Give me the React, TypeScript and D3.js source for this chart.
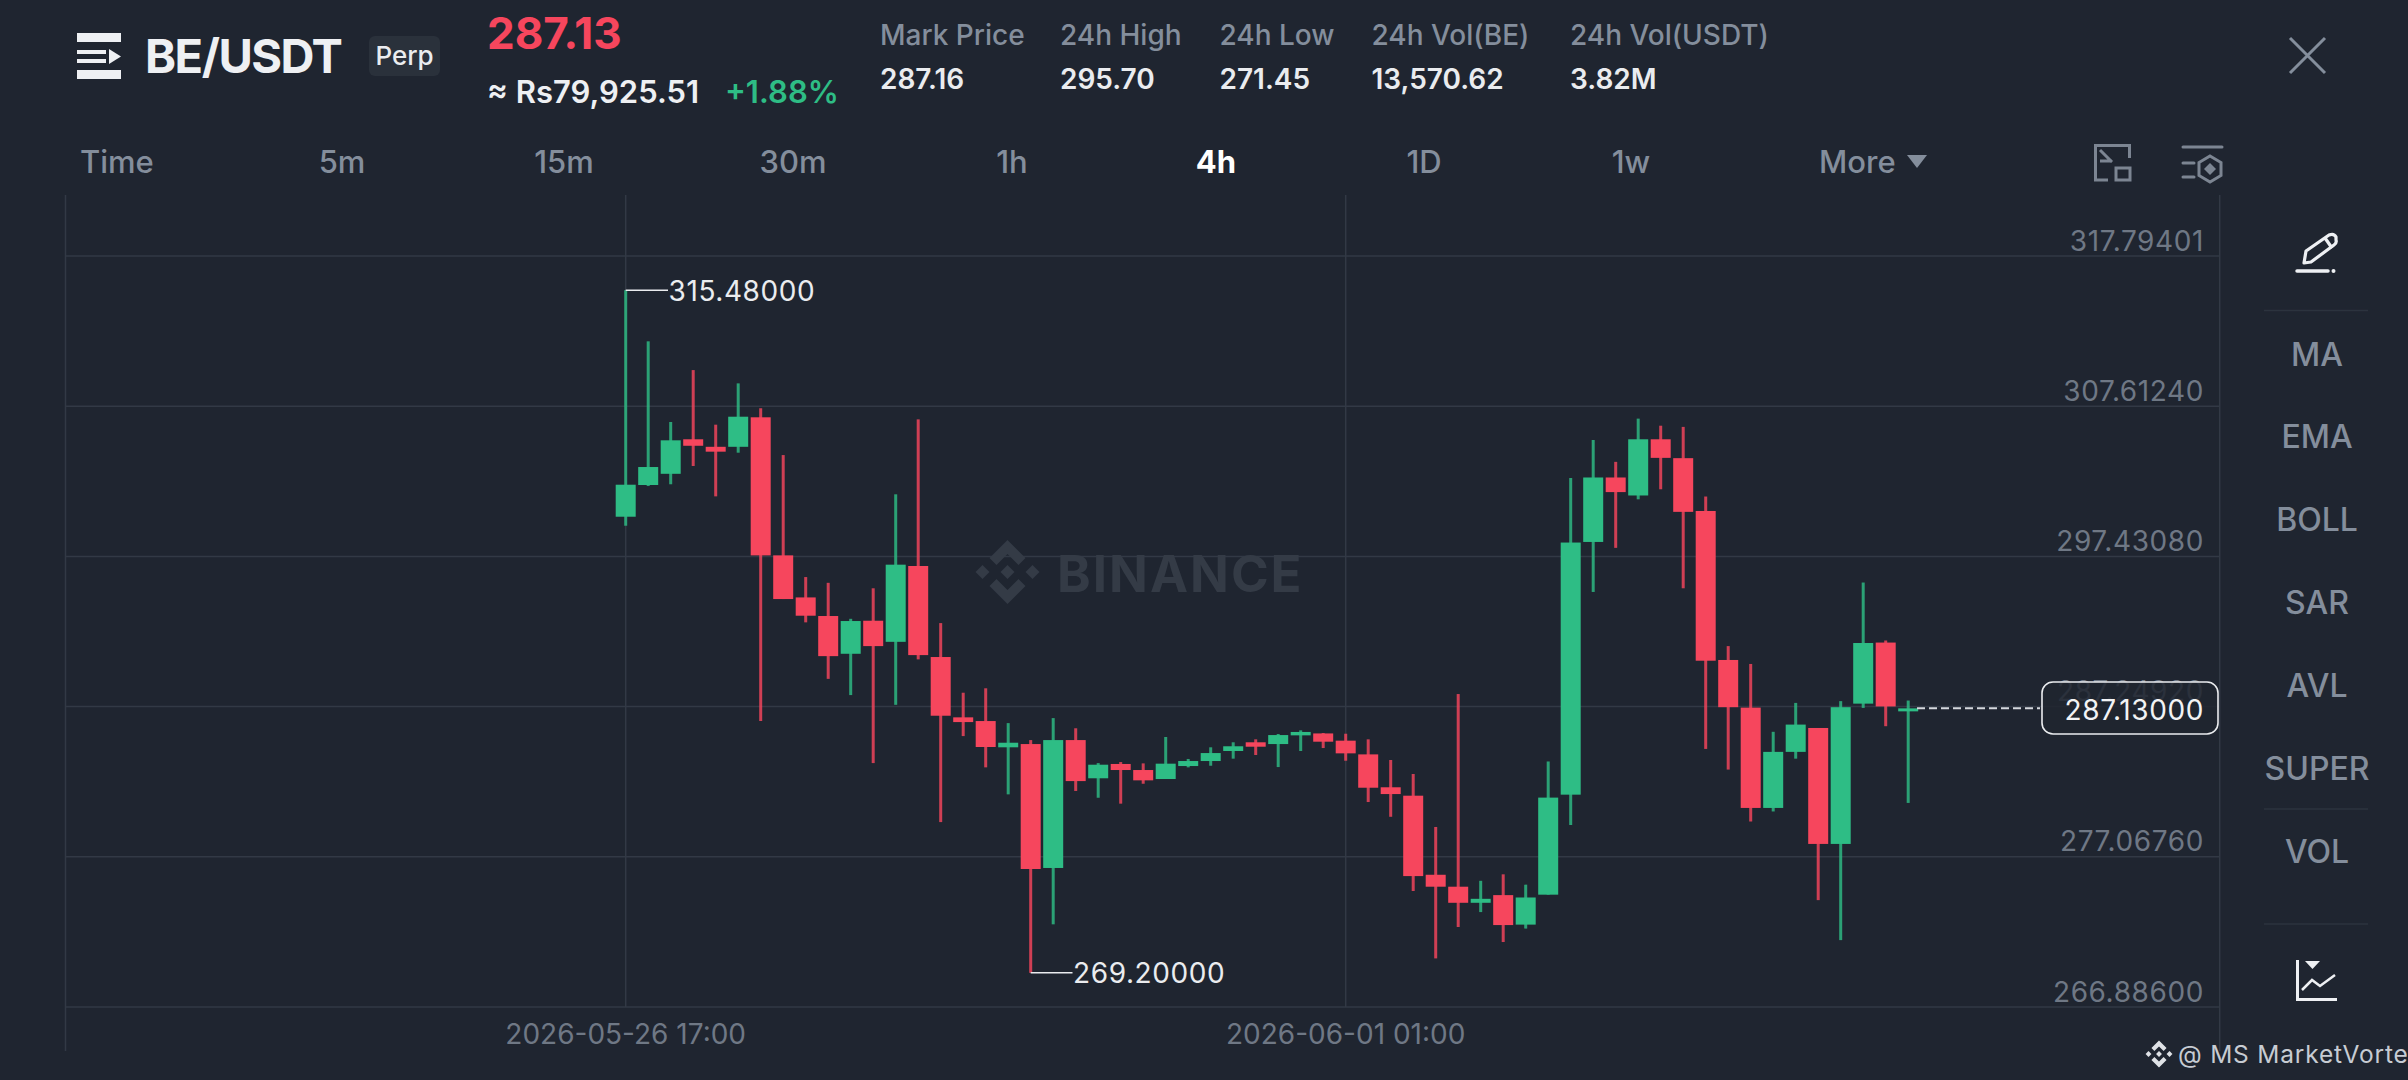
import React from "react";
import * as d3 from "d3";

const opens = [300.12,302.27,303.03,305.37,304.86,304.86,306.86,297.5,294.65,293.39,290.83,293.07,291.64,296.78,290.61,286.52,286.27,284.49,284.71,276.31,284.98,282.39,283.36,282.95,282.34,283.22,283.56,284.24,284.83,284.71,285.3,285.43,284.94,284.01,281.78,281.21,275.85,275.04,273.95,274.47,272.47,274.5,281.28,298.41,302.78,301.56,305.37,304.09,300.51,290.41,287.18,280.38,284.18,285.8,277.94,287.45,291.59,287.05];
const closes = [302.29,303.49,305.3,304.93,304.53,306.9,297.5,294.54,293.41,290.67,293.05,291.35,296.87,290.74,286.63,286.2,284.51,284.8,276.24,284.98,282.2,283.31,282.95,282.25,283.38,283.56,284.1,284.56,284.53,285.32,285.53,284.87,284.08,281.75,281.32,275.76,275.04,273.95,274.22,272.44,274.31,281.08,298.37,302.78,301.79,305.37,304.11,300.45,290.36,287.21,280.38,284.18,286.03,277.94,287.21,291.56,287.26,287.13];
const highs = [315.48,312.01,306.54,310.06,306.36,309.16,307.47,304.3,296.03,295.64,293.2,295.27,301.64,306.72,292.91,288.19,288.49,286.13,284.98,286.47,285.78,283.42,283.49,283.4,285.19,283.7,284.49,284.83,285.03,285.39,285.64,285.46,285.41,285.03,283.63,282.68,279.09,288.1,275.44,275.88,275.18,283.53,302.75,305.32,303.84,306.77,306.29,306.21,301.49,291.35,290.14,285.54,287.5,285.8,287.62,295.66,291.73,287.66];
const lows = [299.51,302.2,302.32,303.56,301.5,304.46,286.27,294.54,292.96,289.13,288.03,283.42,287.37,290.45,279.42,285.25,283.13,281.3,269.2,272.49,281.53,281.07,280.67,282.02,282.34,283.13,283.24,283.72,283.97,283.15,284.24,284.44,283.58,280.78,279.78,274.75,270.18,272.31,273.32,271.29,272.2,274.5,279.22,295.02,298.01,301.3,301.98,295.27,284.38,282.98,279.46,280.14,283.72,274.13,271.42,287.16,285.92,280.72];

const firstCandle = "2026-05-26 17:00";
const candleHours = 4;
const xTicks = ["2026-05-26 17:00", "2026-06-01 01:00"];
const yTicks = ["317.79401", "307.61240", "297.43080", "287.24920", "277.06760", "266.88600"];
const lastPrice = "287.13000";
const maxLabel = "315.48000";
const minLabel = "269.20000";

const intervals = ["Time", "5m", "15m", "30m", "1h", "4h", "1D", "1w"];
const intervalX = [80, 342, 564, 793, 1012, 1216, 1424, 1631];
const statLabels = ["Mark Price", "24h High", "24h Low", "24h Vol(BE)", "24h Vol(USDT)"];
const statValues = ["287.16", "295.70", "271.45", "13,570.62", "3.82M"];
const statX = [880, 1060, 1219.5, 1371.5, 1570];
const indicators = ["MA", "EMA", "BOLL", "SAR", "AVL", "SUPER", "VOL"];
const indicatorY = [365.5, 448, 531, 614, 697, 780, 863];

const BG = "#1f2530";
const RED = "#f6465d";
const GREEN = "#2ebd85";
const GRID = "#323945";
const MUTED = "#848e9c";
const AXIS = "#6f7885";
const WHITE = "#eaecef";
const FONT = "Inter, 'Noto Sans', sans-serif";

const parse = d3.utcParse("%Y-%m-%d %H:%M");
const times = opens.map((_, i) => d3.utcHour.offset(parse(firstCandle) as Date, i * candleHours));

const x = d3.scaleUtc().domain([times[0], times[times.length - 1]]).range([625.7, 1908.2]);
const y = d3.scaleLinear().domain([+yTicks[5], +yTicks[0]]).range([1007, 256]);
const BODY = 20;

const BinanceMark = ({ cx, cy, s, fill }: { cx: number; cy: number; s: number; fill: string }) => (
  <g transform={`translate(${cx},${cy}) scale(${s})`} fill={fill}>
    <path d="M0,-32 L18,-14 L11,-7 L0,-18 L-11,-7 L-18,-14 Z" />
    <path d="M0,32 L18,14 L11,7 L0,18 L-11,7 L-18,14 Z" />
    <path d="M0,-7 L7,0 L0,7 L-7,0 Z" />
    <path d="M-25,-7 L-18,0 L-25,7 L-32,0 Z" />
    <path d="M25,-7 L32,0 L25,7 L18,0 Z" />
  </g>
);

export default function App() {
  const lastY = y(+lastPrice);
  const hiIdx = d3.maxIndex(highs);
  const loIdx = d3.minIndex(lows);
  return (
    <svg width={2408} height={1080} style={{ position: "fixed", left: 0, top: 0 }} fontFamily={FONT}>
      <rect width={2408} height={1080} fill={BG} />

      {/* header */}
      <g fill="#eef0f3">
        <rect x={77} y={33} width={44} height={9} />
        <rect x={77} y={70} width={44} height={9} />
        <rect x={77} y={50} width={29} height={4} />
        <rect x={77} y={59} width={29} height={4} />
        <path d="M109,49 L121,56.5 L109,64 Z" />
      </g>
      <text x={145} y={73} fontSize={47} fontWeight={700} letterSpacing={-1.5} fill="#eef0f3">BE/USDT</text>
      <rect x={369} y={36} width={71} height={40} rx={6} fill="#2a313b" />
      <text x={404.5} y={65} fontSize={26} fontWeight={500} fill={WHITE} textAnchor="middle">Perp</text>
      <text x={487} y={49} fontSize={44} fontWeight={700} fill={RED}>287.13</text>
      <text x={487} y={103} fontSize={31} fontWeight={600} fill="#eef0f3">≈ Rs79,925.51</text>
      <text x={725} y={103} fontSize={31} fontWeight={600} fill={GREEN}>+1.88%</text>
      {statLabels.map((t, i) => (
        <text key={t} x={statX[i]} y={45} fontSize={28} fontWeight={500} fill={MUTED}>{t}</text>
      ))}
      {statValues.map((t, i) => (
        <text key={t} x={statX[i]} y={89} fontSize={28} fontWeight={600} fill={WHITE}>{t}</text>
      ))}
      <path d="M2290,38 L2325,73 M2325,38 L2290,73" stroke={MUTED} strokeWidth={3} fill="none" />

      {/* interval bar */}
      {intervals.map((t, i) => (
        <text key={t} x={intervalX[i]} y={173} fontSize={31} fontWeight={t === "4h" ? 700 : 500}
          fill={t === "4h" ? "#ffffff" : MUTED} textAnchor={i === 0 ? "start" : "middle"}>{t}</text>
      ))}
      <text x={1819} y={173} fontSize={31} fontWeight={500} fill={MUTED}>More</text>
      <path d="M1907,155 L1927,155 L1917,168 Z" fill={MUTED} />
      <g fill="none" stroke="#7c8592" strokeWidth={3}>
        <path d="M2108,180 L2095.5,180 L2095.5,145.5 L2129.5,145.5 L2129.5,158" />
        <rect x={2116} y={168} width={14} height={12} />
        <path d="M2100,150 L2112,162 M2100,161 L2112,161 " />
        <path d="M2183,147 L2222,147 M2183,163 L2194,163 M2183,177 L2194,177" strokeLinecap="round" />
        <path d="M2210,156 L2221,162.5 L2221,175.5 L2210,182 L2199,175.5 L2199,162.5 Z" />
      </g>
      <path d="M2210,163 L2216,169 L2210,175 L2204,169 Z" fill="#7c8592" />

      {/* grid */}
      <g stroke={GRID} strokeWidth={1.5}>
        {yTicks.map((t) => (
          <line key={t} x1={65.5} x2={2219.7} y1={y(+t)} y2={y(+t)} />
        ))}
        <line x1={65.5} x2={65.5} y1={195} y2={1051} />
        <line x1={2219.7} x2={2219.7} y1={195} y2={1051} />
        {xTicks.map((t) => (
          <line key={t} x1={x(parse(t) as Date)} x2={x(parse(t) as Date)} y1={195} y2={1007} />
        ))}
      </g>

      {/* watermark */}
      <BinanceMark cx={1007.5} cy={572} s={1} fill="#343b46" />
      <text x={1057} y={592} fontSize={51} fontWeight={700} letterSpacing={2} fill="#343b46">BINANCE</text>

      {/* axis labels */}
      {yTicks.map((t) => (
        <text key={t} x={2204} y={y(+t) - 5.5} fontSize={28} letterSpacing={0.6} fill={AXIS} textAnchor="end">{t}</text>
      ))}
      {xTicks.map((t) => (
        <text key={t} x={x(parse(t) as Date)} y={1044} fontSize={28} fill={AXIS} textAnchor="middle">{t}</text>
      ))}

      {/* candles */}
      {opens.map((o, i) => {
        const c = closes[i];
        const col = c >= o ? GREEN : RED;
        const top = y(Math.max(o, c));
        const bot = y(Math.min(o, c));
        const h = Math.max(bot - top, 3);
        const cx = x(times[i]);
        return (
          <g key={i}>
            <line x1={cx} x2={cx} y1={y(highs[i])} y2={y(lows[i])} stroke={col} strokeOpacity={0.82} strokeWidth={3} />
            <rect x={cx - BODY / 2} y={top} width={BODY} height={h} fill={col} />
          </g>
        );
      })}

      {/* extreme labels */}
      <line x1={x(times[hiIdx])} x2={668} y1={y(highs[hiIdx])} y2={y(highs[hiIdx])} stroke={WHITE} strokeWidth={1.5} />
      <text x={668.5} y={y(highs[hiIdx]) + 10.5} fontSize={28} letterSpacing={0.6} fill={WHITE}>{maxLabel}</text>
      <line x1={x(times[loIdx])} x2={1072.5} y1={y(lows[loIdx])} y2={y(lows[loIdx])} stroke={WHITE} strokeWidth={1.5} />
      <text x={1073} y={y(lows[loIdx]) + 10.5} fontSize={28} letterSpacing={0.6} fill={WHITE}>{minLabel}</text>

      {/* last price */}
      <line x1={1917} x2={2040} y1={lastY} y2={lastY} stroke="#d5d8dd" strokeWidth={2} strokeDasharray="8 4" />
      <rect x={2042} y={682} width={176} height={52} rx={11} fill={BG} fillOpacity={0.86} stroke={WHITE} strokeWidth={1.6} />
      <text x={2204} y={720} fontSize={28} letterSpacing={0.6} fill="#f2f3f5" textAnchor="end">{lastPrice}</text>

      {/* side panel */}
      <g fill="none" stroke="#eef0f3" strokeWidth={3.2} strokeLinejoin="round">
        <path d="M2304,263 L2306,251 L2329,235 Q2334,233 2336,237 L2336,240 Q2337,243 2334,245 L2311,262 Z" />
        <path d="M2325,238 L2332,248" />
      </g>
      <path d="M2297,271 L2328,271" stroke="#eef0f3" strokeWidth={3.5} strokeLinecap="round" />
      <circle cx={2333.5} cy={271} r={2} fill="#eef0f3" />
      {[310.5, 809, 924].map((sy) => (
        <line key={sy} x1={2264} x2={2368} y1={sy} y2={sy} stroke="#2c333e" strokeWidth={1.5} />
      ))}
      {indicators.map((t, i) => (
        <text key={t} x={2317} y={indicatorY[i]} fontSize={32} fontWeight={500} fill={MUTED} textAnchor="middle">{t}</text>
      ))}
      <g fill="none" stroke="#eef0f3" strokeWidth={3}>
        <path d="M2297.5,960 L2297.5,999.5 L2337,999.5" />
        <path d="M2302,990 L2312,980 L2320,986 L2335,975" strokeWidth={2.5} />
      </g>
      <path d="M2305,961 L2320,961 L2312.5,969 Z" fill="#eef0f3" />

      {/* credit */}
      <BinanceMark cx={2159} cy={1054} s={0.42} fill="#dfe2e6" />
      <text x={2178} y={1063} fontSize={24.5} letterSpacing={0.8} fill="#c7ccd3">@ MS MarketVortex</text>
    </svg>
  );
}
